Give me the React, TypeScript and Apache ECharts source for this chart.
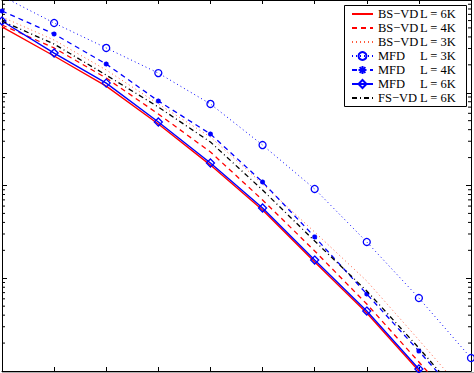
import React, { useEffect, useRef } from "react";
import * as echarts from "echarts";

// x positions (index of evaluated points)
const xValues = [1, 2, 3, 4, 5, 6, 7, 8, 9, 10];

// series names split into method / length part
const methods = ["BS−VD", "BS−VD", "BS−VD", "MFD", "MFD", "MFD", "FS−VD"];
const lengths = ["L = 6K", "L = 4K", "L = 3K", "L = 3K", "L = 4K", "L = 6K", "L = 6K"];

// values (1e-4 .. 1)
const bsvd6K = [0.512, 0.249, 0.118, 0.046, 0.0166, 0.00544, 0.0015, 0.000422, 0.0001, 0.000022];
const bsvd4K = [0.538, 0.304, 0.144, 0.059, 0.023, 0.00698, 0.00197, 0.000527, 0.000125, 0.0000296];
const bsvd3K = [0.656, 0.37, 0.176, 0.0757, 0.0333, 0.0104, 0.00315, 0.000934, 0.000216, 0.0000487];
const mfd3K = [1.1, 0.565, 0.304, 0.163, 0.0757, 0.0273, 0.00917, 0.00246, 0.000612, 0.000138];
const mfd4K = [0.761, 0.43, 0.204, 0.0815, 0.0359, 0.0109, 0.00279, 0.000676, 0.000164, 0.000038];
const mfd6K = [0.594, 0.268, 0.127, 0.0484, 0.0175, 0.00572, 0.00157, 0.000443, 0.000105, 0.0000231];
const fsvd6K = [0.594, 0.335, 0.155, 0.0702, 0.0294, 0.00894, 0.00252, 0.000729, 0.000177, 0.0000399];

const yMin = 0.0001;
const yMax = 1;
const minorTicks: number[] = [];
[0.0001, 0.001, 0.01, 0.1].forEach((d) => {
  for (let m = 2; m <= 9; m++) minorTicks.push(+(d * m).toPrecision(3));
});

const names = methods.map((m, i) => `${m} ${lengths[i]}`);
const seriesValues = [bsvd6K, bsvd4K, bsvd3K, mfd3K, mfd4K, mfd6K, fsvd6K];

const RED = "#ff0000";
const BLUE = "#0000ff";
const BLACK = "#000000";
const STAR = "path://M0,-5L0,5M-5,0L5,0M-3.6,-3.6L3.6,3.6M-3.6,3.6L3.6,-3.6";

const styles = [
  { color: RED, type: "solid", width: 1.4, symbol: "none", size: 0, fill: RED },
  { color: RED, type: [5, 4], width: 1.3, symbol: "none", size: 0, fill: RED },
  { color: "#ff5a3c", type: [1, 3], width: 1, symbol: "none", size: 0, fill: RED },
  { color: BLUE, type: [1, 3], width: 1, symbol: "circle", size: 7, fill: "rgba(255,255,255,0)" },
  { color: BLUE, type: [5, 4], width: 1.3, symbol: STAR, size: 5, fill: BLUE },
  { color: BLUE, type: "solid", width: 1.4, symbol: "diamond", size: 8, fill: "rgba(255,255,255,0)" },
  { color: BLACK, type: [5, 3, 1, 3], width: 1.3, symbol: "none", size: 0, fill: BLACK },
];

const FONT = "Liberation Serif";

export default function App() {
  const ref = useRef<HTMLDivElement>(null);
  useEffect(() => {
    if (!ref.current) return;
    const chart = echarts.init(ref.current, undefined, { renderer: "svg" });
    const axisCommon = {
      axisLine: { show: true, lineStyle: { color: "#000", width: 1 } },
      axisLabel: { show: false },
      splitLine: { show: false },
    };
    const lineSeries = names.map((name, i) => {
      const s = styles[i];
      return {
        name,
        type: "line",
        data: xValues.map((x, k) => [x, seriesValues[i][k]]),
        symbol: s.symbol,
        symbolSize: s.size,
        showSymbol: s.symbol !== "none",
        color: s.color,
        lineStyle: { color: s.color, type: s.type, width: s.width },
        itemStyle: { color: s.fill, borderColor: s.color, borderWidth: s.symbol === STAR ? 1.5 : 1.3 },
        clip: true,
        z: 2 + i,
      };
    });
    const legendCommon = {
      orient: "vertical",
      top: 5,
      padding: [2, 0, 2, 0],
      itemGap: 0,
      selectedMode: false,
      textStyle: { fontFamily: FONT, fontSize: 12.5, lineHeight: 14, color: "#000" },
      z: 20,
    };
    chart.setOption({
      animation: false,
      backgroundColor: "#fff",
      grid: { left: 2, right: 3, top: -1, bottom: 2 },
      xAxis: [0, 1].map((j) => ({
        type: "value",
        min: 1,
        max: 10,
        interval: 1,
        position: j === 0 ? "bottom" : "top",
        axisTick: { show: true, inside: true, length: 4, lineStyle: { color: "#000" } },
        ...axisCommon,
      })),
      yAxis: [0, 1].map((j) => ({
        type: "log",
        logBase: 10,
        min: yMin,
        max: yMax,
        position: j === 0 ? "left" : "right",
        axisTick: { show: true, inside: true, length: 5, lineStyle: { color: "#000" } },
        ...axisCommon,
      })),
      legend: [
        {
          ...legendCommon,
          left: 351,
          itemWidth: 21,
          itemHeight: 10,
          data: names.map((n, i) => ({
            name: n,
            itemStyle: styles[i].symbol === "none" ? { opacity: 0 } : undefined,
          })),
          formatter: (name: string) => name.slice(0, name.indexOf(" ")),
        },
        {
          ...legendCommon,
          left: 415,
          itemWidth: 0,
          itemHeight: 10,
          icon: "none",
          data: names,
          formatter: (name: string) => name.slice(name.indexOf(" ") + 1),
        },
      ],
      graphic: [
        { type: "rect", shape: { x: 2, y: 372, width: 472, height: 1 }, style: { fill: "#b0b0b0" }, z: 0 },
        {
          type: "rect",
          shape: { x: 344.5, y: 5.5, width: 122, height: 101 },
          style: { fill: "#fff", stroke: "#000", lineWidth: 1 },
          z: 15,
        },
      ],
      series: [
        ...lineSeries,
        {
          name: "minor-ticks",
          type: "custom",
          data: minorTicks.map((v) => [1, v]),
          encode: { x: 0, y: 1 },
          clip: false,
          silent: true,
          renderItem: (params: any, api: any) => {
            const v = api.value(1);
            const pl = api.coord([xValues[0], v]);
            const pr = api.coord([xValues[xValues.length - 1], v]);
            return {
              type: "group",
              children: [
                { type: "line", shape: { x1: pl[0], y1: pl[1], x2: pl[0] + 3, y2: pl[1] }, style: { stroke: "#000", lineWidth: 1 } },
                { type: "line", shape: { x1: pr[0] - 3, y1: pr[1], x2: pr[0], y2: pr[1] }, style: { stroke: "#000", lineWidth: 1 } },
              ],
            };
          },
          z: 1,
        },
      ],
    });
    return () => chart.dispose();
  }, []);
  return (
    <div
      ref={ref}
      style={{ position: "fixed", left: 0, top: 0, width: 474, height: 373, background: "#fff" }}
    />
  );
}
